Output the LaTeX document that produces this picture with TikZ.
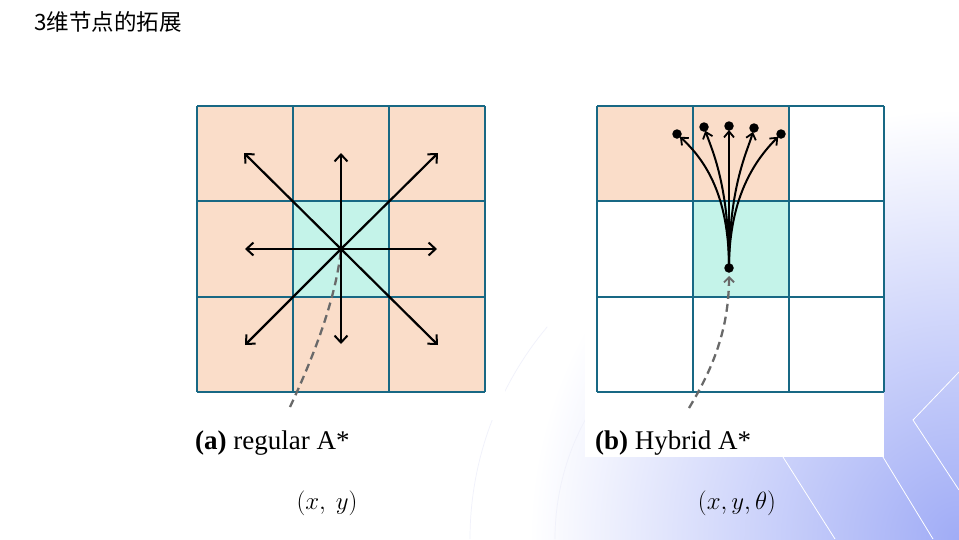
\documentclass[tikz,border=0pt]{standalone}
\usepackage{fontspec}
\setmainfont{Liberation Serif}
\newfontfamily\cjkfont{Noto Sans CJK SC}
\usetikzlibrary{arrows.meta}
\definecolor{peach}{RGB}{250,221,201}
\definecolor{cyancell}{RGB}{196,243,233}
\definecolor{gridcol}{RGB}{24,104,132}
\definecolor{lav}{RGB}{160,172,246}
\definecolor{dashgray}{RGB}{105,105,105}
\definecolor{arccol}{RGB}{240,241,251}
\tikzset{
  gridline/.style={draw=gridcol, line width=2.3pt},
  movearrow/.style={line width=2.2pt, -{Straight Barb[length=7pt,width=13pt,line width=2pt]}},
  fanarrow/.style={line width=2pt, shorten >=4pt, -{Straight Barb[length=6pt,width=10pt,line width=1.8pt]}},
  pathdash/.style={draw=dashgray, line width=2.3pt, dash pattern=on 8pt off 5pt},
  dotnode/.style={circle, fill=black, inner sep=0pt, minimum size=9.5pt},
  caption/.style={font=\fontsize{27}{30}\selectfont, anchor=base west, inner sep=0pt},
  mathlabel/.style={font=\fontsize{23}{26}\selectfont, inner sep=0pt},
  deco/.style={draw=white, line width=0.8pt}
}
\begin{document}
\begin{tikzpicture}[x=1pt,y=-1pt]
\useasboundingbox (0,0) rectangle (959,539);
\begin{scope}
\clip (0,0) rectangle (959,539);
\fill[white] (0,0) rectangle (959,539);
\shade[inner color=lav, outer color=white] (959,539) circle (430pt);
% faint arcs
\draw[draw=arccol, line width=0.7pt] (470,539) arc[start angle=180, end angle=140, radius=330pt];
\draw[draw=arccol, line width=0.7pt] (555,539) arc[start angle=180, end angle=140, radius=250pt];
% white decorative lines
\draw[deco] (783,457) -- (835,539);
\draw[deco] (883,457) -- (933,539);
\draw[deco] (959,372) -- (913,420) -- (959,490);
\end{scope}

% picture backgrounds
\fill[white] (188,96) rectangle (505,420);
\fill[white] (585,96) rectangle (884,457);

% title
\node[anchor=west, inner sep=0pt, font=\cjkfont\fontsize{22.5}{26}\selectfont] (title) at (34,22) {3维节点的拓展};

% ---------- left grid (a) ----------
\fill[peach] (197,106) rectangle (485,392);
\fill[cyancell] (293,201) rectangle (389,297);
\foreach \x in {197,293,389,485} \draw[gridline] (\x,106) -- (\x,392);
\foreach \y in {106,201,297,392} \draw[gridline] (197,\y) -- (485,\y);

\coordinate (c) at (341,249);
\coordinate (n) at (341,153);
\coordinate (s) at (341,344);
\coordinate (w) at (245,249);
\coordinate (e) at (437,249);
\coordinate (nw) at (244,153);
\coordinate (ne) at (438,153);
\coordinate (sw) at (245,345);
\coordinate (se) at (438,345);
\coordinate (ta) at (290,407);
\draw[pathdash] (ta) .. controls (312,360) and (336,300) .. (c);
\foreach \t in {n,s,w,e,nw,ne,sw,se} \draw[movearrow] (c) -- (\t);

\node[caption] (capa) at (195,449) {\textbf{(a)} regular A*};
\node[mathlabel] (ma) at (327,503) {$(x,\ y)$};

% ---------- right grid (b) ----------
\fill[peach] (597,106) rectangle (789,201);
\fill[cyancell] (693,201) rectangle (789,297);
\foreach \x in {597,693,789,884} \draw[gridline] (\x,106) -- (\x,392);
\foreach \y in {106,201,297,392} \draw[gridline] (597,\y) -- (884,\y);

\node[dotnode] (st) at (729,268) {};
\node[dotnode] (d1) at (677,134) {};
\node[dotnode] (d2) at (704,127) {};
\node[dotnode] (d3) at (729,126) {};
\node[dotnode] (d4) at (754,128) {};
\node[dotnode] (d5) at (781,134) {};
\coordinate (tb) at (689,408);
\coordinate (tbe) at (729,276);
\draw[pathdash, -{Straight Barb[length=5pt,width=10pt,line width=1.8pt]}] (tb) .. controls (712,370) and (729,330) .. (tbe);

\draw[fanarrow] (st.center) .. controls (729,195) and (705,160) .. (d1.center);
\draw[fanarrow] (st.center) .. controls (729,185) and (712,150) .. (d2.center);
\draw[fanarrow] (st.center) -- (d3.center);
\draw[fanarrow] (st.center) .. controls (729,185) and (748,150) .. (d4.center);
\draw[fanarrow] (st.center) .. controls (729,195) and (757,158) .. (d5.center);

\node[caption] (capb) at (595,449) {\textbf{(b)} Hybrid A*};
\node[mathlabel] (mb) at (737,503) {$(x,y,\theta)$};
\end{tikzpicture}
\end{document}
